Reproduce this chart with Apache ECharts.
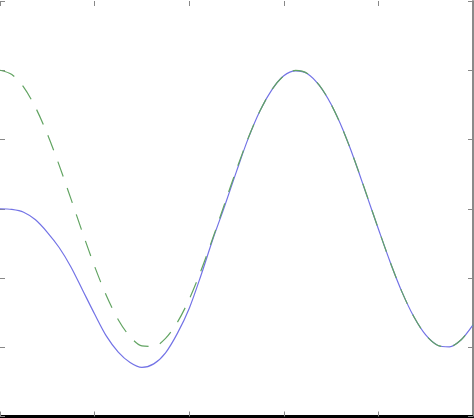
<!DOCTYPE html>
<html style="height: 100%">
<head>
<meta charset="utf-8">
<script type="text/javascript" src="https://cdn.jsdelivr.net/npm/echarts@6/dist/echarts.min.js"></script>
</head>
<body style="height: 100%; margin: 0; background: #fff">
<div id="container" style="width: 474px; height: 418px"></div>
<script type="text/javascript">
// time samples (step 0.25)
var tValues = [0, 0.25, 0.5, 0.75, 1, 1.25, 1.5, 1.75, 2, 2.25, 2.5, 2.75, 3, 3.25, 3.5, 3.75,
  4, 4.25, 4.5, 4.75, 5, 5.25, 5.5, 5.75, 6, 6.25, 6.5, 6.75, 7, 7.25, 7.5, 7.75,
  8, 8.25, 8.5, 8.75, 9, 9.25, 9.5, 9.75, 10];
// solid blue curve
var outputValues = [0, -0.005, -0.025, -0.08, -0.17, -0.28, -0.42, -0.59, -0.76, -0.92, -1.035, -1.11, -1.145, -1.12, -1.04, -0.90,
  -0.72, -0.48, -0.22, 0.02, 0.27, 0.51, 0.71, 0.86, 0.96, 0.995, 0.975, 0.89, 0.754, 0.57, 0.347, 0.10,
  -0.146, -0.386, -0.602, -0.78, -0.911, -0.985, -0.997, -0.946, -0.839];
// dashed green curve
var referenceValues = [1, 0.969, 0.878, 0.732, 0.54, 0.315, 0.071, -0.178, -0.416, -0.628, -0.801, -0.924, -0.99, -0.994, -0.936, -0.82,
  -0.654, -0.446, -0.211, 0.037, 0.284, 0.512, 0.709, 0.861, 0.96, 0.999, 0.977, 0.893, 0.754, 0.569, 0.347, 0.103,
  -0.146, -0.386, -0.602, -0.78, -0.911, -0.985, -0.997, -0.946, -0.839];

function pairs(xs, ys){
  var out = [];
  for(var i = 0; i < xs.length; i++){
    out.push([xs[i], ys[i]]);
  }
  return out;
}

var tickStyle = {show: true, inside: true, length: 5, lineStyle: {color: '#888', width: 1}};

var myChart = echarts.init(document.getElementById('container'));
var option = {
  animation: false,
  backgroundColor: '#fff',
  grid: {left: 0, right: 1, top: 1, bottom: 1.5, containLabel: false},
  xAxis: [
    {type: 'value', position: 'bottom', min: 0, max: 10, interval: 2,
     axisLine: {show: true, onZero: false, lineStyle: {color: '#000', width: 3}},
     axisTick: tickStyle, axisLabel: {show: false}, splitLine: {show: false}},
    {type: 'value', position: 'top', min: 0, max: 10, interval: 2,
     axisLine: {show: false, onZero: false}, axisTick: tickStyle, axisLabel: {show: false}, splitLine: {show: false}}
  ],
  yAxis: [
    {type: 'value', position: 'left', min: -1.5, max: 1.5, interval: 0.5,
     axisLine: {show: false, onZero: false}, axisTick: tickStyle, axisLabel: {show: false}, splitLine: {show: false}},
    {type: 'value', position: 'right', min: -1.5, max: 1.5, interval: 0.5,
     axisLine: {show: true, onZero: false, lineStyle: {color: '#8a8a8a', width: 2}},
     axisTick: tickStyle, axisLabel: {show: false}, splitLine: {show: false}}
  ],
  series: [
    {type: 'line', data: pairs(tValues, outputValues), showSymbol: false, smooth: 0.3,
     lineStyle: {color: '#7373e6', width: 1.2}},
    {type: 'line', data: pairs(tValues, referenceValues), showSymbol: false, smooth: 0.3,
     lineStyle: {color: '#62a462', width: 1.2, type: [16, 12]}}
  ]
};
myChart.setOption(option);
</script>
</body>
</html>
